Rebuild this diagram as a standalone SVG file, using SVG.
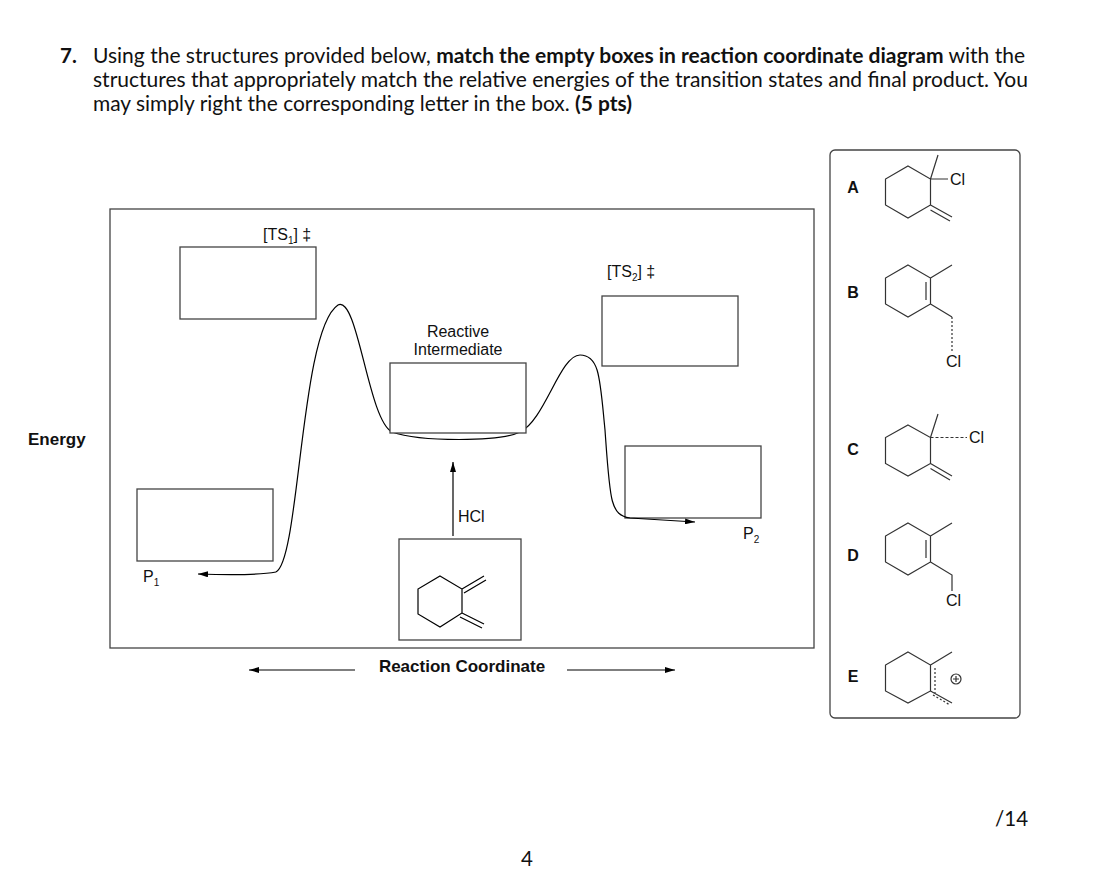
<svg xmlns="http://www.w3.org/2000/svg" width="1097" height="875" viewBox="0 0 1097 875">
<defs>
<marker id="ah" viewBox="0 0 10 6" refX="10" refY="3" markerWidth="10" markerHeight="6" orient="auto" markerUnits="userSpaceOnUse"><path d="M0,0L10,3L0,6z" fill="#000"/></marker>
<style>
.t{font-family:Lato,"Liberation Sans",sans-serif;font-size:20.5px;fill:#111}
.s{font-family:"Liberation Sans",Arial,sans-serif;font-size:16px;fill:#111}
.b{font-weight:bold}
.box{fill:#fff;stroke:#444;stroke-width:1.3}
.bd{fill:none;stroke:#444;stroke-width:1.3}
.ln{fill:none;stroke:#000;stroke-width:1.2}
</style>
</defs>
<rect width="1097" height="875" fill="#fff"/>
<text class="t" x="60" y="63"><tspan class="b">7.</tspan></text>
<text class="t" x="93" y="63" textLength="932" lengthAdjust="spacingAndGlyphs">Using the structures provided below, <tspan class="b">match the empty boxes in reaction coordinate diagram</tspan> with the</text>
<text class="t" x="93" y="87" textLength="935" lengthAdjust="spacingAndGlyphs">structures that appropriately match the relative energies of the transition states and final product. You</text>
<text class="t" x="93" y="111" textLength="539" lengthAdjust="spacingAndGlyphs">may simply right the corresponding letter in the box. <tspan class="b">(5 pts)</tspan></text>

<g id="frame"><rect x="110" y="209" width="704" height="439" class="bd"/></g>
<g id="ts1"><text class="s" x="263" y="240">[TS<tspan font-size="10" dy="4">1</tspan><tspan dy="-4">]   ‡</tspan></text><rect class="box" x="180" y="247" width="136" height="72"/></g>
<g id="ri"><text class="s" x="458" y="337" text-anchor="middle">Reactive</text><text class="s" x="458" y="355" text-anchor="middle">Intermediate</text></g>
<g id="ts2"><text class="s" x="607" y="277">[TS<tspan font-size="10" dy="4">2</tspan><tspan dy="-4">]   ‡</tspan></text><rect class="box" x="602" y="296" width="136" height="70"/></g>
<g id="p1"><rect class="box" x="137" y="489" width="136" height="72"/><text class="s" x="143" y="582">P<tspan font-size="10" dy="4">1</tspan></text></g>
<g id="p2"><rect class="box" x="625" y="446" width="136" height="72"/><text class="s" x="743" y="539">P<tspan font-size="10" dy="4">2</tspan></text></g>
<g id="connectors">
<path class="ln" d="M276,572 C300,560 300,330 338,305 C358,295 368,420 392,432 C420,442 500,442 520,432 C545,420 560,355 580,355 C600,355 600,380 605,430 C610,500 610,515 630,518 L695,522" marker-end="url(#ah)"/>
<path class="ln" d="M276,572 C260,575 230,575 198,574" marker-end="url(#ah)"/>
<line class="ln" x1="453" y1="536" x2="453" y2="462" marker-end="url(#ah)"/>
<line class="ln" x1="355" y1="670" x2="249" y2="670" marker-end="url(#ah)"/>
<line class="ln" x1="567" y1="670" x2="675" y2="670" marker-end="url(#ah)"/>
</g>
<g id="ribox"><rect class="box" x="390" y="363" width="136" height="70"/></g>
<text class="s" x="458" y="522">HCl</text>
<g id="start"><rect class="box" x="399" y="539" width="122" height="101"/>
<path class="ln" d="M440,576 L462,589 L462,613 L440,627 L418,614 L418,589 Z M462,589 L484,576 M464,593 L486,580 M462,613 L484,624 M460,617 L482,628" stroke="#333"/></g>
<text class="s b" x="28" y="445" style="font-size:17px">Energy</text>
<text class="s b" x="462" y="672" text-anchor="middle" style="font-size:17px">Reaction Coordinate</text>

<g id="panel"><rect x="830" y="150" width="190" height="568" rx="5" class="bd" stroke-width="1.5"/>
<g class="s b" text-anchor="middle" font-size="14"><text x="853" y="193">A</text><text x="853" y="298">B</text><text x="853" y="455">C</text><text x="853" y="561">D</text><text x="853" y="682">E</text></g>
<g id="A" stroke="#333" fill="none" stroke-width="1.2">
<path d="M908,166 L930.5,179 L930.5,205 L908,218 L885.5,205 L885.5,179 Z M930.5,179 L938,155 M930.5,179 L948,179 M930.5,205 L952,217 M930.5,210 L950,221"/>
<text class="s" x="950" y="185" stroke="none" fill="#111" font-size="14">Cl</text></g>
<g id="B" stroke="#333" fill="none" stroke-width="1.2">
<path d="M908,265 L930.5,278 L930.5,304 L908,317 L885.5,304 L885.5,278 Z M926,282 L926,300 M930.5,278 L952,265 M930.5,304 L952,317"/>
<path d="M952,317 L952,352" stroke-dasharray="2,2"/>
<text class="s" x="946" y="367" stroke="none" fill="#111" font-size="14">Cl</text></g>
<g id="C" stroke="#333" fill="none" stroke-width="1.2">
<path d="M908,425 L930.5,437.5 L930.5,463.5 L908,476 L885.5,463.5 L885.5,437.5 Z M930.5,437.5 L938,414 M930.5,463.5 L952,476 M930.5,468.5 L950,480"/>
<path d="M930.5,437.5 L967,437.5" stroke-dasharray="3,2"/>
<text class="s" x="969" y="443" stroke="none" fill="#111" font-size="14">Cl</text></g>
<g id="D" stroke="#333" fill="none" stroke-width="1.2">
<path d="M908,523 L930.5,536 L930.5,562 L908,575 L885.5,562 L885.5,536 Z M926,540 L926,558 M930.5,536 L952,523 M930.5,562 L952,575 L952,591"/>
<text class="s" x="946" y="606" stroke="none" fill="#111" font-size="14">Cl</text></g>
<g id="E" stroke="#333" fill="none" stroke-width="1.2">
<path d="M908,652 L930.5,665 L930.5,691 L908,703 L885.5,691 L885.5,665 Z M930.5,665 L952,652 M930.5,691 L952,703"/>
<path d="M935,668 L935,693 M933,695 L950,705" stroke-dasharray="2,2"/>
<circle cx="956" cy="679" r="5"/><path d="M953,679 L959,679 M956,676 L956,682"/></g>
</g>
<text class="t" x="995" y="826" font-size="19">/14</text>
<text class="t" x="521" y="866" font-size="17">4</text>
</svg>
